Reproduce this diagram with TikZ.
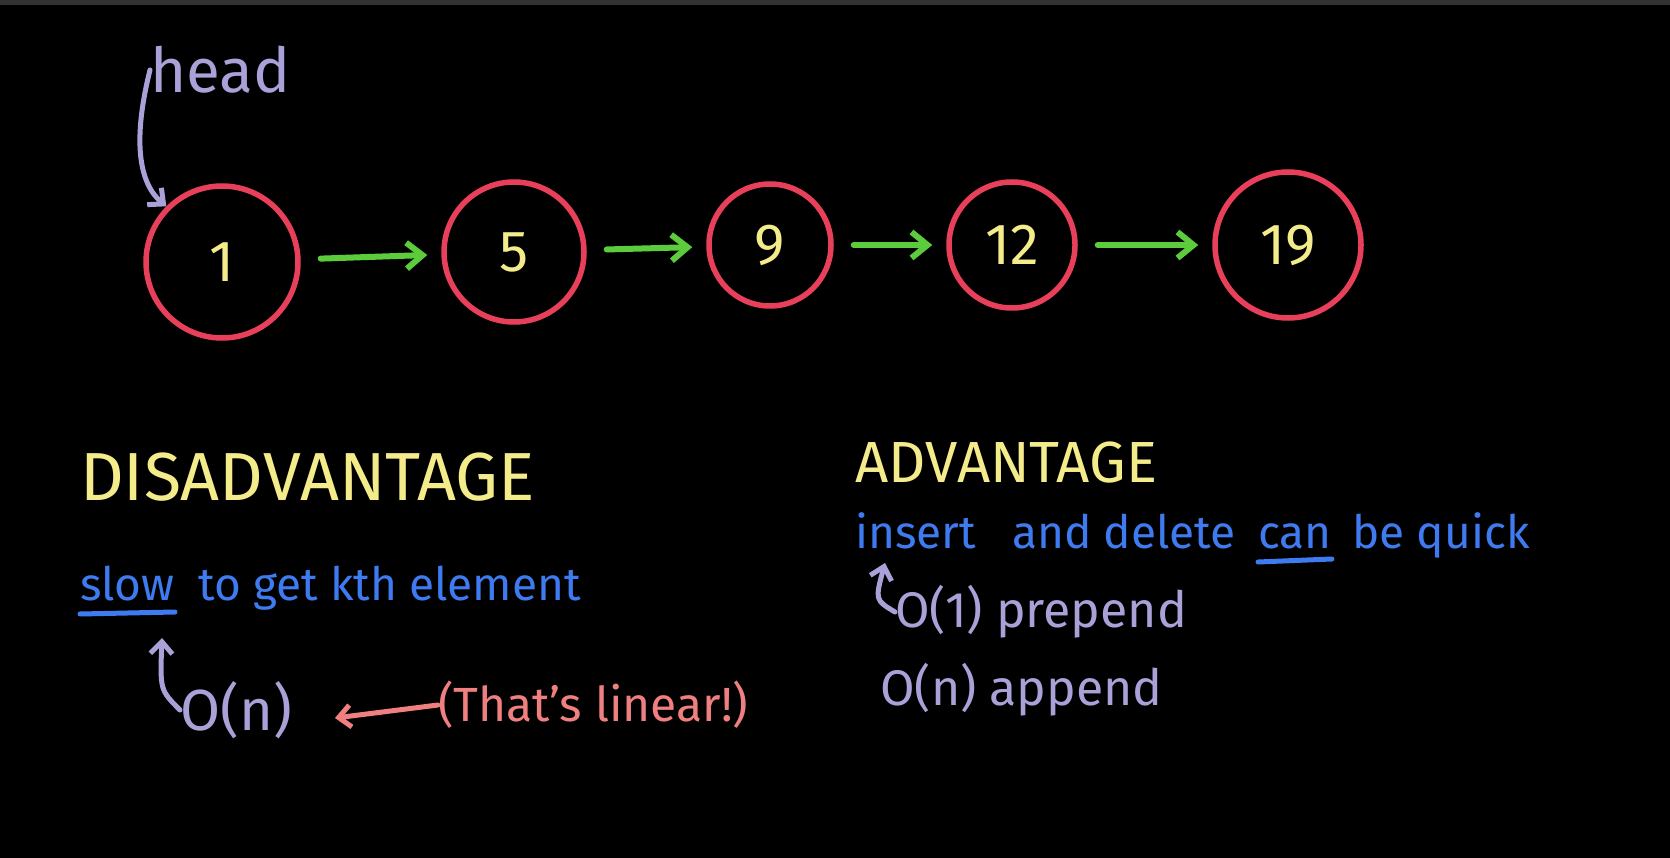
\documentclass[tikz,border=0pt]{standalone}
\usepackage{fontspec}
\setmainfont{Fira Sans}
\usetikzlibrary{arrows.meta,shapes.geometric}
\definecolor{bg}{HTML}{000000}
\definecolor{ring}{HTML}{E8405A}
\definecolor{grn}{HTML}{5CCB3C}
\definecolor{yel}{HTML}{F4EC8A}
\definecolor{blu}{HTML}{3F7BF0}
\definecolor{lav}{HTML}{A9A2D8}
\definecolor{pnk}{HTML}{F08080}
\begin{document}
\begin{tikzpicture}[x=1pt,y=-1pt,
  nodec/.style={draw=ring,line width=5.5pt,circle,inner sep=0pt,text=yel,font=\fontsize{58}{58}\selectfont},
  link/.style={grn,line width=6pt,-{Straight Barb[length=16pt,width=26pt]},line cap=round,shorten <=20pt,shorten >=14pt},
  txt/.style={inner sep=0pt,anchor=base west},
  bl/.style={txt,text=blu,font=\fontsize{46}{46}\selectfont},
  thin/.style={line width=5pt,line cap=round,-{Straight Barb[length=12pt,width=22pt]}}]
\useasboundingbox[fill=bg] (0,0) rectangle (1670,858);
\fill[gray!40!black] (0,0) rectangle (1670,5);
\node[nodec,minimum size=152pt] (n1) at (222,262) {1};
\node[nodec,minimum size=140pt] (n5) at (514,252) {5};
\node[nodec,minimum size=122pt] (n9) at (770,245) {9};
\node[nodec,minimum size=126pt] (n12) at (1012,245) {12};
\node[nodec,minimum size=146pt] (n19) at (1288,245) {19};
\draw[link] (n1) -- (n5);
\draw[link] (n5) -- (n9);
\draw[link] (n9) -- (n12);
\draw[link] (n12) -- (n19);
\node[txt,anchor=west,text=lav,font=\fontsize{62}{62}\selectfont] (head) at (150,70) {head};
\draw[lav,thin] (head.west) .. controls (135,130) and (135,180) .. (n1.north west);
\node[txt,text=yel,font=\fontsize{68}{68}\selectfont] (dis) at (80,500) {DISADVANTAGE};
\node[txt,text=yel,font=\fontsize{58}{58}\selectfont] (adv) at (855,482) {ADVANTAGE};
\node[bl] (slow) at (80,600) {slow};
\node[bl] (rest) at (198,600) {to get kth element};
\draw[blu,line width=5pt,line cap=round] ([yshift=-14pt]slow.base west) -- ([yshift=-12pt]slow.base east);
\node[txt,anchor=west,text=lav,font=\fontsize{58}{58}\selectfont] (on) at (180,710) {O(n)};
\coordinate (sa) at (162,638);
\draw[lav,thin] (on.west) .. controls (160,690) .. (sa);
\node[txt,anchor=west,text=pnk,font=\fontsize{48}{48}\selectfont] (lin) at (438,705) {(That's linear!)};
\coordinate (la) at (335,718);
\draw[pnk,thin] (lin.west) -- (la);
\node[bl] (ins) at (855,548) {insert};
\node[bl] (ad) at (1012,548) {and delete};
\node[bl] (can) at (1258,548) {can};
\node[bl] (bq) at (1352,548) {be quick};
\draw[blu,line width=5pt,line cap=round] ([yshift=-14pt]can.base west) -- ([yshift=-11pt]can.base east);
\node[txt,anchor=west,text=lav,font=\fontsize{50}{50}\selectfont] (pre) at (895,612) {O(1) prepend};
\coordinate (ia) at (885,563);
\draw[lav,thin] (pre.west) .. controls (875,600) .. (ia);
\node[txt,anchor=west,text=lav,font=\fontsize{50}{50}\selectfont] (app) at (880,690) {O(n) append};
\end{tikzpicture}
\end{document}
